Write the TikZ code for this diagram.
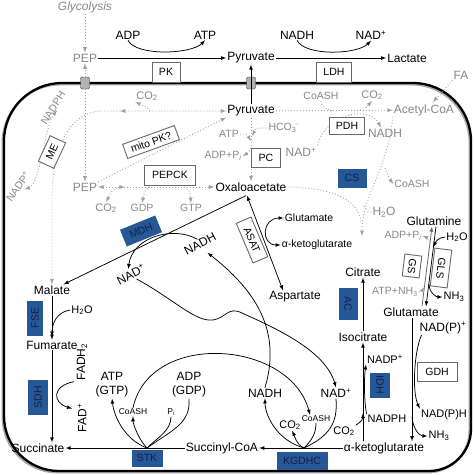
\documentclass[tikz,border=0pt]{standalone}
\usepackage{fontspec}
\setmainfont{Liberation Sans}
\usetikzlibrary{calc,decorations.markings}

\definecolor{grayt}{RGB}{135,135,135}
\definecolor{dotgray}{RGB}{160,160,160}
\definecolor{boxgray}{RGB}{105,105,105}
\definecolor{boxblue}{RGB}{38,88,152}
\definecolor{boxtext}{RGB}{18,32,70}

\tikzset{
  met/.style={font=\fontsize{12}{14}\selectfont, inner sep=1pt},
  cof/.style={font=\fontsize{11}{13}\selectfont, inner sep=1pt},
  smet/.style={font=\fontsize{10.5}{12}\selectfont, inner sep=1pt},
  wee/.style={font=\fontsize{8.5}{10}\selectfont, inner sep=1pt},
  gmet/.style={met, text=grayt},
  gmid/.style={cof, text=grayt},
  gcof/.style={smet, text=grayt},
  enz/.style={draw=boxgray, fill=white, line width=0.9pt,
    font=\fontsize{10.5}{12}\selectfont, inner sep=1pt},
  benz/.style={fill=boxblue, text=boxtext,
    font=\fontsize{10.5}{12}\selectfont, inner sep=1pt},
  rx/.style={->, line width=0.75pt},
  gl/.style={draw=dotgray, line width=0.9pt, dash pattern=on 0.9pt off 2.1pt},
  tport/.style={draw=gray!40!black, fill=gray!60, rounded corners=2pt,
    minimum width=9pt, minimum height=12pt, inner sep=0pt},
  membrane/.style={line width=2.3pt},
}

\begin{document}
\begin{tikzpicture}[x=1pt, y=-1pt, >=latex]
\useasboundingbox (0,0) rectangle (474,475);

% mitochondrion
\draw[membrane, gray!70, xshift=-1.3pt, yshift=-1.3pt] (4,300) [rounded corners=58pt] |- (300,83) -| (471,300)
  [rounded corners=42pt] |- (300,471) [rounded corners=55pt] -| (4,300);
\draw[membrane] (4,300) [rounded corners=58pt] |- (300,83) -| (471,300)
  [rounded corners=42pt] |- (300,471) [rounded corners=55pt] -| (4,300);
\node[tport] (tp1) at (85,83) {};
\node[tport] (tp2) at (251,83) {};

% cytosol
\node[gmet, font=\fontsize{12}{14}\selectfont\itshape] (glyc) at (85,7) {Glycolysis};
\node[gmet] (pepout) at (85,58) {PEP};
\node[met] (pyrout) at (251,58) {Pyruvate};
\node[met] (lac) at (407,58) {Lactate};
\node[met] (adp1) at (128,35) {ADP};
\node[met] (atp1) at (205,35) {ATP};
\node[met] (nadh1) at (297,35) {NADH};
\node[met] (nad1) at (371,35) {NAD\textsuperscript{+}};
\node[gmet] (fa) at (461,75) {FA};

% matrix, grey part
\node[met] (pyrin) at (251,111) {Pyruvate};
\node[met] (oaa) at (251,187) {Oxaloacetate};
\node[gmet] (pepin) at (85,187) {PEP};
\node[gmid] (co2a) at (147,96) {CO\textsubscript{2}};
\node[gcof, rotate=58] (nadph) at (53,108) {NADPH};
\node[gcof, rotate=55] (nadpp) at (18,186) {NADP\textsuperscript{+}};
\node[gmid] (co2b) at (106,208) {CO\textsubscript{2}};
\node[gcof] (gdp) at (142,208) {GDP};
\node[gcof] (gtp) at (191,208) {GTP};
\node[gcof] (atp2) at (229,134) {ATP};
\node[gcof] (hco3) at (284,128) {HCO\textsubscript{3}\textsuperscript{-}};
\node[gcof] (adppi) at (223,156) {ADP+P\textsubscript{\itshape i}};
\node[gmet] (nadpdh) at (301,152) {NAD\textsuperscript{+}};
\node[gcof] (coash1) at (321,96) {CoASH};
\node[gmid] (co2c) at (372,95) {CO\textsubscript{2}};
\node[gmet] (acoa) at (424,110) {Acetyl-CoA};
\node[gmet] (nadhpdh) at (385,133) {NADH};
\node[gcof] (coash2) at (412,184) {CoASH};
\node[gmet] (h2oa) at (384,212) {H\textsubscript{2}O};

% matrix, black part
\node[met] (cit) at (363,272) {Citrate};
\node[met] (asp) at (295,297) {Aspartate};
\node[smet] (glu2) at (309,218) {Glutamate};
\node[smet] (akg2) at (317,245) {α-ketoglutarate};
\node[met, rotate=28] (nadhmdh) at (200,244) {NADH};
\node[met, rotate=28] (nadmdh) at (131,274) {NAD\textsuperscript{+}};
\node[met] (mal) at (52,290) {Malate};
\node[met] (fum) at (52,345) {Fumarate};
\node[met] (suc) at (38,448) {Succinate};
\node[cof] (h2ob) at (82,310) {H\textsubscript{2}O};
\node[met, rotate=90] (fadh) at (82,362) {FADH\textsubscript{2}};
\node[met, rotate=90] (fad) at (82,418) {FAD\textsuperscript{+}};
\node[met] (sucoa) at (222,448) {Succinyl-CoA};
\node[met] (akg) at (384,448) {α-ketoglutarate};
\node[met, align=center] (atp3) at (112,385) {ATP\\(GTP)};
\node[met, align=center] (adp3) at (189,385) {ADP\\(GDP)};
\node[wee] (coash3) at (133,412) {CoASH};
\node[wee] (pi) at (171,412) {P\textsubscript{\itshape i}};
\node[met] (nadh3) at (265,393) {NADH};
\node[met] (nad3) at (336,393) {NAD\textsuperscript{+}};
\node[cof] (co2d) at (290,425) {CO\textsubscript{2}};
\node[wee] (coash4) at (316,419) {CoASH};
\node[cof] (co2e) at (344,431) {CO\textsubscript{2}};
\node[cof] (nadpp2) at (385,359) {NADP\textsuperscript{+}};
\node[cof] (nadph2) at (387,419) {NADPH};
\node[met] (isocit) at (363,337) {Isocitrate};
\node[met] (gln) at (434,221) {Glutamine};
\node[cof] (h2oc) at (457,237) {H\textsubscript{2}O};
\node[gcof] (adppi2) at (403,236) {ADP+P\textsubscript{\itshape i}};
\node[gcof] (atpnh3) at (395,292) {ATP+NH\textsubscript{3}};
\node[cof] (nh3a) at (454,297) {NH\textsubscript{3}};
\node[met] (glu) at (411,312) {Glutamate};
\node[met] (nadpp3) at (443,328) {NAD(P)\textsuperscript{+}};
\node[cof] (nadph3) at (444,415) {NAD(P)H};
\node[cof] (nh3b) at (439,436) {NH\textsubscript{3}};

% points on the reaction lines
\coordinate (meA) at (52,200);
\coordinate (meB) at (100,111);
\coordinate (meC) at (150,111);
\coordinate (pepckA) at (120,187);
\coordinate (pepckB) at (150,187);
\coordinate (pepckC) at (184,187);
\coordinate (pcA) at (251,141);
\coordinate (pcB) at (252,136);
\coordinate (pcC) at (251,148);
\coordinate (pdhA) at (333,111);
\coordinate (pdhB) at (357,111);
\coordinate (csA) at (385,168);
\coordinate (csB) at (361,222);
\coordinate (csC) at (364,206);
\coordinate (csEnd) at (362,236);
\coordinate (facoa) at (433,102);
\coordinate (sp) at (147,448);
\coordinate (kp) at (304,448);
\coordinate (idhC) at (363,413);
\coordinate (glsH) at (433.5,247);
\coordinate (glsN) at (429,284);
\coordinate (gsA) at (424.5,287);
\coordinate (gsB) at (430,243);
\coordinate (gdhT) at ([xshift=1pt]glu.south);
\coordinate (gdhN) at (412,417);

% grey (dotted) reactions
\draw[gl,->] (glyc) -- (pepout);
\draw[gl,->] (tp1) -- (pepout);
\draw[gl,->] (tp1) -- (pepin);
\draw[gl,<->, postaction={decorate},
  decoration={markings, mark=at position 0.67 with {\arrowreversed{latex}}}]
  (mal.north) -- (meA) .. controls (52,150) and (68,113) .. (meB) -- (pyrin.west);
\draw[gl,->] (meC) .. controls (146,107) .. (co2a.south west);
\draw[gl,<->] ([xshift=2pt]nadpp.south) .. controls (40,185) and (45,125) .. (nadph.south);
\draw[gl,->] (pepin.north east) -- (pyrin.south west);
\draw[gl,<->, postaction={decorate},
  decoration={markings, mark=at position 0.23 with {\arrow{latex}}}]
  (pepin) -- (oaa);
\draw[gl,->] (pepckA) .. controls (112,190) .. (co2b.north);
\draw[gl,->] (pepckB) .. controls (145,190) .. (gdp.north);
\draw[gl,->] (pepckC) .. controls (190,191) .. (gtp.north);
\draw[gl,->] (pyrin) -- (oaa);
\draw[gl,->] (atp2.east) .. controls (247,134) .. (pcA);
\draw[gl,->] (hco3.west) .. controls (256,128) .. (pcB);
\draw[gl,->] (pcC) .. controls (248,153) .. (adppi.east);
\draw[gl,->] (pyrin) -- (acoa);
\draw[gl] (coash1.south) .. controls (323,108) .. (pdhA);
\draw[gl,->] (pdhB) .. controls (366,108) .. (co2c.south);
\draw[gl,<-] ([xshift=-4pt]nadhpdh.north) .. controls (370,106) and (325,112) .. (nadpdh.north east);
\draw[gl,->] (fa.south west) -- (facoa);
\draw[gl,->] (acoa.south west) .. controls (388,170) and (362,195) .. (csEnd);
\draw[gl] (oaa.east) .. controls (335,188) and (358,200) .. (csB);
\draw[gl,->] (csA) .. controls (389,178) .. (coash2.west);
\draw[gl] (h2oa.west) .. controls (368,212) .. (csC);

% cytosolic reactions
\draw[rx] (pepout) -- (pyrout);
\draw[rx] (adp1.south) .. controls +(8,16) and +(-14,14) .. (atp1.south);
\draw[rx] (pyrout) -- (lac);
\draw[rx] (nadh1.south) .. controls +(8,16) and +(-14,14) .. (nad1.south);
\draw[rx] (pyrin) -- (pyrout);

% MDH, ASAT
\draw[rx] ([xshift=-5pt,yshift=-3pt]oaa.south) -- (mal);
\draw[rx,<->] ([xshift=-4pt,yshift=-3pt]oaa.south) -- ([xshift=-12pt]asp.north);
\draw[rx,<->] (glu2.west) .. controls +(-22,0) and +(-20,0) .. (akg2.west);
\draw[rx] (nadhmdh.north) .. controls (172,225) and (132,238) .. (nadmdh.north);
\draw[rx] (nadh3.north) .. controls (282,330) and (255,290) .. ([xshift=5pt,yshift=-4pt]nadhmdh.south);
\draw[rx] ([xshift=3pt]nadmdh.south) .. controls (175,300) and (195,322) .. (213,320)
  .. controls (226,318) and (228,306) .. (242,313)
  .. controls (275,328) and (325,350) .. (nad3.north);

% FSE, SDH
\draw[rx] (mal) -- (fum);
\draw[rx] (h2ob.west) .. controls +(-14,2) and +(0,-12) .. ([yshift=3pt]fum.north);
\draw[rx] (fum.south) -- (fum.south |- suc.north);
\draw[rx] ([xshift=-8pt]fadh.west) .. controls +(-22,4) and +(-20,-6) .. ([xshift=-10pt,yshift=-6pt]fad.east);

% STK, KGDHC
\draw[rx] (sucoa) -- (suc);
\draw[rx] (akg) -- (sucoa);
\draw[rx] (sp) .. controls +(-22,-8) and +(2,18) .. (atp3.south);
\draw[rx] (sp) .. controls +(-8,-8) and +(0,8) .. (coash3.south);
\draw[line width=0.75pt] (pi.south) .. controls +(0,14) and +(10,-10) .. (sp);
\draw[line width=0.75pt] (adp3.south) .. controls +(2,25) and +(25,-18) .. (sp);
\draw[rx] (coash3.north) .. controls (150,330) and (290,340) .. ([xshift=-6pt]coash4.north);
\draw[rx] (kp) .. controls +(-28,-8) and +(0,16) .. (nadh3.south);
\draw[rx] (kp) .. controls +(-8,-4) and +(3,6) .. ([xshift=2pt]co2d.south);
\draw[line width=0.75pt] (coash4.south) .. controls +(0,10) and +(8,-8) .. (kp);
\draw[line width=0.75pt] (nad3.south) .. controls +(2,25) and +(25,-12) .. (kp);

% IDH, AC
\draw[rx] (akg.north -| isocit.south) -- (isocit.south);
\draw[rx] (co2e.north east) .. controls +(6,-4) and +(0,6) .. (idhC);
\draw[rx] (nadph2.north west) .. controls (364,400) and (364,378) .. (nadpp2.south west);
\draw[rx] (isocit) -- (cit);

% GS, GLS, GDH
\draw[rx] ([xshift=2pt]gln.south) -- ([xshift=15pt]glu.north);
\draw[->, gray!75!black, line width=0.75pt] ([xshift=11pt]glu.north) -- ([xshift=-2pt]gln.south);
\draw[gl,->] (atpnh3.east) .. controls (421,292) .. (gsA);
\draw[gl,->] (gsB) .. controls (428,238) .. (adppi2.east);
\draw[rx] (h2oc.west) .. controls +(-6,0) and +(2,-5) .. (glsH);
\draw[rx] (glsN) .. controls +(0,9) and +(-6,0) .. (nh3a.west);
\draw[rx] (gdhT) -- (gdhT |- akg.north);
\draw[rx] ([xshift=3pt]nadpp3.south west) .. controls (414,352) and (412,392) .. (nadph3.north west);
\draw[rx] (gdhN) .. controls +(1,12) and +(-8,0) .. (nh3b.west);

% enzymes
\node[enz, minimum width=28pt, minimum height=20pt] (pk) at (166,72) {PK};
\node[enz, minimum width=35pt, minimum height=20pt] (ldh) at (334,72) {LDH};
\node[enz, rotate=65, minimum width=28pt, minimum height=17pt] (me) at (52,152) {ME};
\node[enz, rotate=20, minimum width=55pt, minimum height=15pt] (mitopk) at (151,142) {mito PK?};
\node[enz, minimum width=51pt, minimum height=20pt] (pepck) at (170,175) {PEPCK};
\node[enz, minimum width=29pt, minimum height=19pt] (pc) at (266,158) {PC};
\node[enz, minimum width=35pt, minimum height=17pt] (pdh) at (347,126) {PDH};
\node[enz, rotate=-67, minimum width=43pt, minimum height=16pt] (asat) at (252,240) {ASAT};
\node[enz, rotate=-97, minimum width=22pt, minimum height=17pt] (gs) at (412,266) {GS};
\node[enz, rotate=-97, minimum width=38pt, minimum height=17pt] (gls) at (441,268) {GLS};
\node[enz, minimum width=40pt, minimum height=19pt] (gdh) at (437,372) {GDH};
\node[benz, minimum width=29pt, minimum height=19pt] (cs) at (352,178) {CS};
\node[benz, rotate=22, minimum width=38pt, minimum height=18pt] (mdh) at (141,231) {MDH};
\node[benz, rotate=90, minimum width=35pt, minimum height=16pt] (fse) at (35,318) {FSE};
\node[benz, rotate=90, minimum width=35pt, minimum height=20pt] (sdh) at (38,397) {SDH};
\node[benz, rotate=-90, minimum width=32pt, minimum height=19pt] (ac) at (348,304) {AC};
\node[benz, rotate=-90, minimum width=25pt, minimum height=20pt] (idh) at (380,385) {IDH};
\node[benz, minimum width=31pt, minimum height=17pt] (stk) at (147,458) {STK};
\node[benz, minimum width=51pt, minimum height=18pt] (kgdhc) at (302,461) {KGDHC};
\end{tikzpicture}
\end{document}
